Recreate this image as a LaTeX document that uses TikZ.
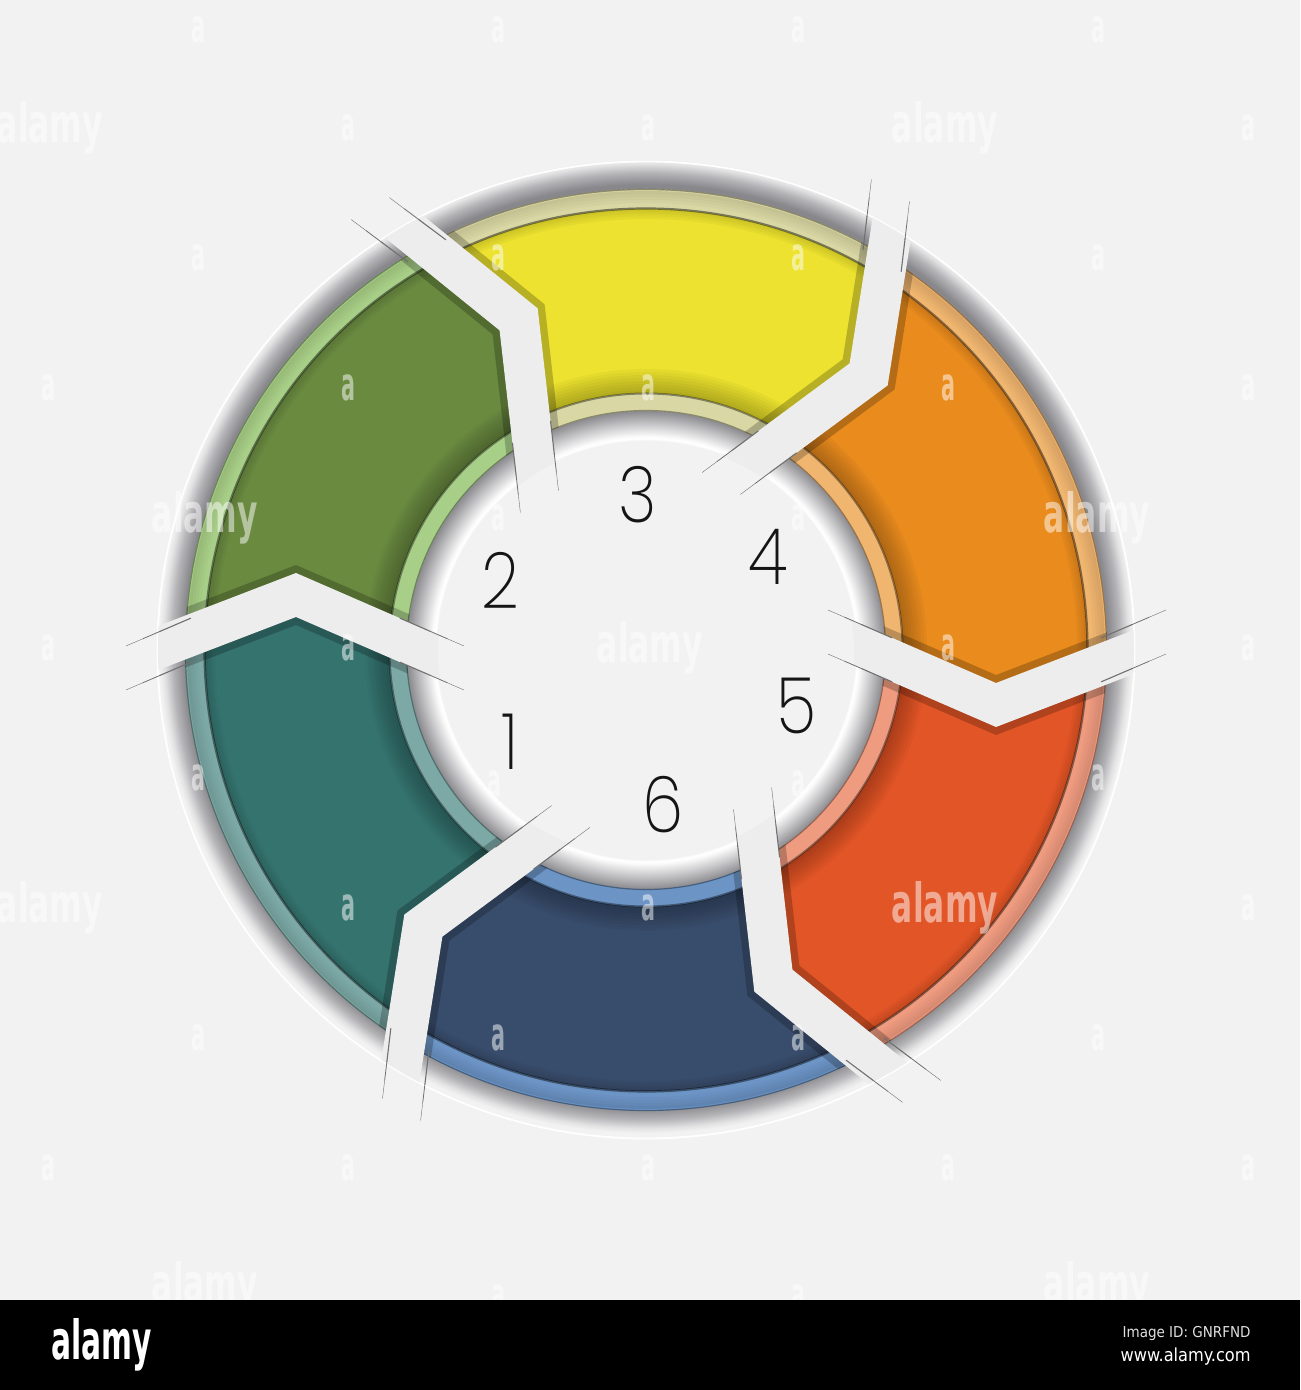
\documentclass[tikz,border=0pt]{standalone}
\usepackage{fontspec}
\usetikzlibrary{calc}
\IfFontExistsTF{Poppins ExtraLight}{\newfontfamily\numfont{Poppins ExtraLight}}{%
  \IfFontExistsTF{Poppins Light}{\newfontfamily\numfont{Poppins Light}}{\newfontfamily\numfont{DejaVu Sans}}}
\newfontfamily\markfont{DejaVu Sans}
\IfFontExistsTF{DejaVu Sans Condensed}{\newfontfamily\condfont{DejaVu Sans Condensed}}{\newfontfamily\condfont{DejaVu Sans}}

\definecolor{bgc}{HTML}{F2F2F2}
\definecolor{bandc}{HTML}{EDEDED}
\definecolor{cutc}{HTML}{707070}
\definecolor{numc}{HTML}{151515}
\definecolor{shdark}{HTML}{88888C}
\definecolor{shmid}{HTML}{B4B4B7}
\definecolor{shlight}{HTML}{E2E2E3}
\definecolor{inwhite}{HTML}{FBFBFB}
\definecolor{ingray}{HTML}{CACACC}
\definecolor{indark}{HTML}{8E8E92}
\definecolor{oraM}{HTML}{E98B1D}\definecolor{oraL}{HTML}{F0B670}
\definecolor{yelM}{HTML}{ECE22F}\definecolor{yelL}{HTML}{D9D7A3}
\definecolor{greM}{HTML}{6A8A40}\definecolor{greL}{HTML}{A8CF88}
\definecolor{teaM}{HTML}{35736F}\definecolor{teaL}{HTML}{7CA9A6}
\definecolor{bluM}{HTML}{384D6C}\definecolor{bluL}{HTML}{6C94C5}
\definecolor{redM}{HTML}{E25527}\definecolor{redL}{HTML}{EF9B7F}

\pgfdeclareradialshading{outerglow}{\pgfpoint{0bp}{0bp}}{%
  color(0bp)=(shdark); color(23.6bp)=(shdark); color(24.2bp)=(shmid);
  color(24.65bp)=(shlight); color(24.9bp)=(bgc); color(25bp)=(bgc); color(50bp)=(bgc)}
\pgfdeclareradialshading{innerglow}{\pgfpoint{0bp}{0bp}}{%
  color(0bp)=(bgc); color(21.95bp)=(bgc); color(22.15bp)=(white);
  color(22.4bp)=(inwhite); color(23.6bp)=(ingray); color(25bp)=(indark);
  color(50bp)=(indark)}

\tikzset{
  numsty/.style={font=\numfont\fontsize{39pt}{39pt}\selectfont, text=numc, inner sep=0pt},
  wmbig/.style={font=\markfont\bfseries\fontsize{27pt}{27pt}\selectfont, text=white, text opacity=0.5, inner sep=0pt},
  wmsmall/.style={font=\markfont\bfseries\fontsize{23pt}{23pt}\selectfont, text=white, text opacity=0.5, inner sep=0pt},
  logosty/.style={font=\markfont\bfseries\fontsize{27pt}{27pt}\selectfont, text=white, inner sep=0pt},
  cutline/.style={draw=cutc, line cap=round},
}

\begin{document}
\begin{tikzpicture}[x=0.5pt,y=0.5pt]
\useasboundingbox (-646,-740) rectangle (654,650);
\fill[bgc] (-646,-740) rectangle (654,650);

% outer recessed disc with soft shadow (a little heavier at the top)
\shade[shading=outerglow] (0,4) circle[radius=489];
\draw[white, line width=0.9pt, opacity=0.95] (0,0) circle[radius=488.5];

% boundary coordinates
\foreach \k in {0,...,5}{
  \begin{scope}[rotate=60*\k]
    \coordinate (b\k-in) at (182,18);
    \coordinate (b\k-ap) at (350,-55);
    \coordinate (b\k-out) at (540,18);
    \coordinate (f\k) at (30:800);
  \end{scope}
}

% coloured segments
\foreach \k/\cm/\cl in {0/oraM/oraL,1/yelM/yelL,2/greM/greL,3/teaM/teaL,4/bluM/bluL,5/redM/redL}{
  \pgfmathtruncatemacro{\nk}{mod(\k+1,6)}
  \begin{scope}
    \clip (b\k-in) -- (b\k-ap) -- (b\k-out) -- (f\k) -- (b\nk-out) -- (b\nk-ap) -- (b\nk-in) -- cycle;
    \fill[\cl, even odd rule] (0,0) circle[radius=461] (0,0) circle[radius=239];
    \fill[\cm, even odd rule] (0,0) circle[radius=441] (0,0) circle[radius=257];
    \foreach \i in {1,...,8}{
      \fill[black, opacity=0.03, even odd rule] (0,0) circle[radius={257+3*\i}] (0,0) circle[radius=257];
    }
    \foreach \i in {1,...,4}{
      \fill[black, opacity=0.03, even odd rule] (0,0) circle[radius=441] (0,0) circle[radius={441-2.5*\i}];
    }
    \foreach \i in {1,...,4}{
      \fill[black, opacity=0.025, even odd rule] (0,0) circle[radius=459] (0,0) circle[radius={459-3*\i}];
    }
    \draw[black, opacity=0.45, line width=1.1pt] (0,0) circle[radius=441.5];
    \draw[black, opacity=0.4, line width=1pt] (0,0) circle[radius=256.5];
    \draw[black, opacity=0.35, line width=0.6pt] (0,0) circle[radius=460.5];
    \draw[black, opacity=0.35, line width=0.6pt] (0,0) circle[radius=239.5];
  \end{scope}
}

% inner disc
\shade[shading=innerglow] (0,0) circle[radius=238.5];

% darker bevel along the separators
\foreach \k in {0,...,5}{
  \begin{scope}
    \clip (0,0) circle[radius=461] (239,0) arc[start angle=0, end angle=-360, radius=239];
    \fill[black, opacity=0.22, rotate=60*\k]
      (182,48) -- (350,-25) -- (540,48) -- (540,-12) -- (350,-85) -- (182,-12) -- cycle;
  \end{scope}
}

% white separator bands
\foreach \k in {0,...,5}{
  \begin{scope}
    \clip (0,0) circle[radius=488] (208,0) arc[start angle=0, end angle=-360, radius=208];
    \fill[bandc, rotate=60*\k]
      (182,40) -- (350,-33) -- (540,40) -- (540,-4) -- (350,-77) -- (182,-4) -- cycle;
  \end{scope}
}

% tapered cut lines
\foreach \k in {0,...,5}{
  \begin{scope}[rotate=60*\k]
    \foreach \s in {22,-22}{
      \foreach \a in {170,-168}{
        \foreach \fa/\fb/\w in {0.62/0.8/0.55pt, 0.8/0.9/0.4pt, 0.9/1.0/0.2pt}{
          \draw[cutline, line width=\w] ({350+\a*\fa},{-55+73*\fa+\s}) -- ({350+\a*\fb},{-55+73*\fb+\s});
        }
      }
    }
  \end{scope}
}

% numbers
\node[numsty] (n3) at (-8,155) {\scalebox{0.85}[1]{3}};
\node[numsty] (n2) at (-146,70) {\scalebox{0.85}[1]{2}};
\node[numsty] (n4) at (122,93) {\scalebox{0.85}[1]{4}};
\node[numsty] (n1) at (-136,-92) {\scalebox{0.85}[1]{1}};
\node[numsty] (n5) at (151,-56) {\scalebox{0.85}[1]{5}};
\node[numsty] (n6) at (17,-155) {\scalebox{0.85}[1]{6}};

% watermarks
\foreach \x/\y [count=\i] in {198/30,498/30,798/30,1098/30,
  348/128,648/128,1248/128,
  198/258,498/258,798/258,1098/258,
  48/388,348/388,648/388,948/388,1248/388,
  498/518,798/518,
  48/648,348/648,948/648,1248/648,
  198/778,494/784,798/784,1098/778,
  348/908,648/908,1248/908,
  198/1038,498/1038,798/1038,1098/1038,
  48/1168,348/1168,648/1168,948/1168,1248/1168,
  498/1298,798/1298}{
  \node[wmsmall] (wa\i) at ({\x-646},{650-\y}) {\scalebox{0.45}[1]{a}};
}
\foreach \x/\y [count=\i] in {50/128,945/128,205/518,1097/518,650/648,50/908,945/908,205/1288,1097/1288}{
  \node[wmbig] (wb\i) at ({\x-646},{650-\y}) {\scalebox{0.58}[1]{alamy}};
}

% bottom bar
\fill[black] (-646,-740) rectangle (654,-650);
\node[logosty] (logo) at (-544,-695) {\scalebox{0.55}[1]{alamy}};
\node[anchor=east, font=\condfont\fontsize{7.5pt}{8pt}\selectfont, text=white!88!black, inner sep=0pt] (imgid) at (605,-683) {Image ID: GNRFND};
\node[anchor=east, font=\condfont\fontsize{9pt}{10pt}\selectfont, text=white, inner sep=0pt] (www) at (605,-707) {www.alamy.com};
\end{tikzpicture}
\end{document}
